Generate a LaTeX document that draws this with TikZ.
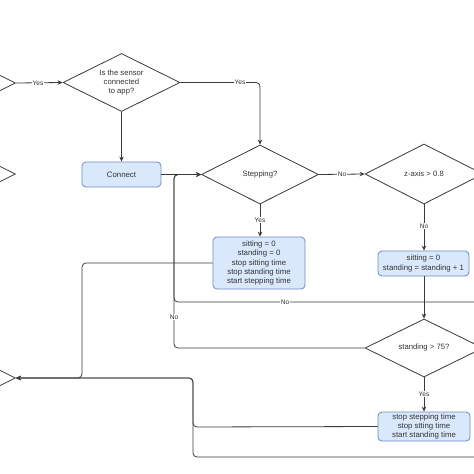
\documentclass[tikz,border=0pt]{standalone}
\usepackage{fontspec}
\setmainfont{Liberation Sans}
\usetikzlibrary{shapes.geometric,arrows.meta}
\definecolor{ln}{HTML}{3A3A3A}
\definecolor{tx}{HTML}{333333}
\definecolor{bfill}{HTML}{DAE8FC}
\definecolor{bdraw}{HTML}{6C8EBF}
\begin{document}
\begin{tikzpicture}[x=1pt,y=-1pt,
 dia/.style={draw=ln, line width=0.8pt, shape=diamond, aspect=2, minimum width=117pt, minimum height=58pt, inner sep=0pt, text=tx, font=\fontsize{7.7}{9.2}\selectfont, align=center},
 proc/.style={draw=bdraw, fill=bfill, rounded corners=4pt, line width=0.8pt, text=tx, font=\fontsize{7.8}{9.3}\selectfont, align=center, inner sep=0pt},
 conn/.style={draw=ln, line width=0.8pt, rounded corners=4pt},
 arr/.style={conn, -{Stealth[length=5pt,width=4.5pt]}},
 lab/.style={fill=white, text=tx, font=\fontsize{6.6}{8}\selectfont, inner sep=0.8pt}]
\useasboundingbox (0,0) rectangle (474,474);
\clip (0,0) rectangle (474,474);
\fill[white] (0,0) rectangle (474,474);
% partial diamonds at the left edge
\node[dia] (L1) at (-43,83) {};
\node[dia] (L2) at (-43,174) {};
\node[dia] (L3) at (-43,378) {};
% main nodes
\node[dia] (D1) at (121.5,82.5) {Is the sensor\\connected\\to app?};
\node[proc, minimum width=79pt, minimum height=25pt] (C) at (121.5,174.5) {Connect};
\node[dia, minimum height=59pt] (S) at (260,174.5) {Stepping?};
\node[dia, minimum width=118pt, minimum height=60pt] (Z) at (424,174) {z-axis > 0.8};
\node[proc, minimum width=92pt, minimum height=52pt] (B1) at (259,263) {sitting = 0\\standing = 0\\stop sitting time\\stop standing time\\start stepping time};
\node[proc, minimum width=91pt, minimum height=25pt] (B2) at (423.5,263.5) {sitting = 0\\standing = standing + 1};
\node[dia, minimum width=118pt] (T) at (424,348) {standing > 75?};
\node[proc, minimum width=92pt, minimum height=29pt] (B3) at (424,426.5) {stop stepping time\\stop stting time\\start standing time};
\coordinate (rA) at (480,302);
\coordinate (rB) at (480,457);
% connectors
\draw[arr] (L1.east) -- (D1.west);
\draw[arr] (D1.east) -- (260,82.5) -- (S.north);
\draw[arr] (D1.south) -- (C.north);
\draw[arr] (C.east) -- (S.west);
\draw[arr] (S.east) -- (Z.west);
\draw[arr] (S.south) -- (B1.north -| S.south);
\draw[arr] (Z.south) -- (B2.north -| Z.south);
\draw[arr] (B2.south -| T.north) -- (T.north);
\draw[arr] (T.south) -- (B3.north);
\draw[arr] (B1.west) -- (82,263) -- (82,378) -- (L3.east);
\draw[arr] (B3.west) -- (193,427) -- (193,378) -- (L3.east);
\draw[arr] (rB) -- (193,457) -- (193,378) -- (L3.east);
\draw[arr] (rA) -- (174,302) -- (174,174.5) -- (S.west);
\draw[arr] (T.west) -- (174,348) -- (174,174.5) -- (S.west);
% labels
\node[lab] (y1) at (38,83) {Yes};
\node[lab] (y2) at (240,82.5) {Yes};
\node[lab] (n1) at (342,174.5) {No};
\node[lab] (y3) at (260,220) {Yes};
\node[lab] (n2) at (424,226) {No};
\node[lab] (n3) at (285,302) {No};
\node[lab] (n4) at (174,317) {No};
\node[lab] (y4) at (424,394) {Yes};
\end{tikzpicture}
\end{document}
